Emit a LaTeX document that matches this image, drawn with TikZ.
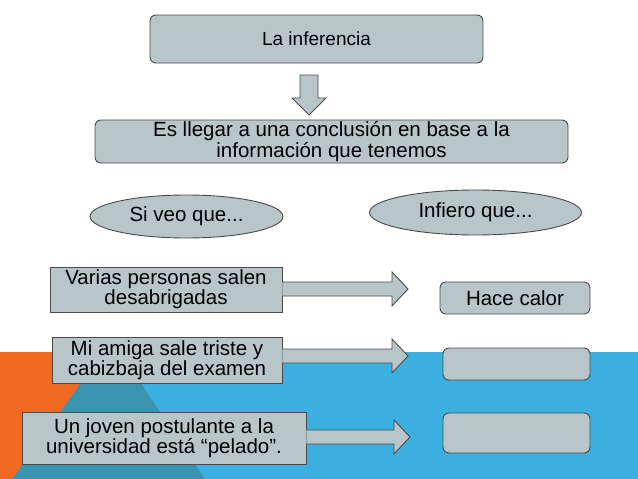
\documentclass[tikz,border=0pt]{standalone}
\usepackage{fontspec}
\setmainfont{Liberation Sans}
\usetikzlibrary{shapes.geometric,calc}
\definecolor{boxfill}{HTML}{B8C6C9}
\definecolor{boxline}{HTML}{4A4A4A}
\definecolor{orangebg}{HTML}{F26A22}
\definecolor{bluebg}{HTML}{3BB0E0}
\definecolor{tealbg}{HTML}{3A93B0}
\tikzset{
  base/.style={draw=boxline,fill=boxfill,line width=0.9pt,font=\fontsize{20.5}{19}\selectfont,align=center,inner sep=0pt},
  rbox/.style={base,rounded corners=6pt},
  sbox/.style={base},
  ell/.style={base,ellipse},
  barrow/.style={draw=boxline,fill=boxfill,line width=0.9pt,line join=miter}
}
\begin{document}
\begin{tikzpicture}[x=1pt,y=-1pt]
\useasboundingbox (0,0) rectangle (638,479);
% background
\fill[bluebg] (100,352) rectangle (638,479);
\fill[orangebg] (0,352) -- (125,352) -- (20,479) -- (0,479) -- cycle;
\fill[tealbg] (112,340) -- (205,479) -- (12,479) -- cycle;
% top
\node[rbox,minimum width=333pt,minimum height=48pt,font=\fontsize{19}{19}\selectfont] (inf) at (316.5,39) {La inferencia};
\node[rbox,minimum width=473pt,minimum height=43pt] (def) at (331.5,141.5) {Es llegar a una conclusión en base a la\\información que tenemos};
\draw[barrow] (300,75) -- (318,75) -- (318,98) -- (326,98) -- (309,115) -- (292,98) -- (300,98) -- cycle;
\node[ell,minimum width=193pt,minimum height=43pt] (si) at (186.5,216.5) {Si veo que...};
\node[ell,minimum width=212pt,minimum height=45pt] (in) at (475.5,212.5) {Infiero que...};
% rows
\node[sbox,minimum width=232pt,minimum height=45pt] (a1) at (166,289.5) {Varias personas salen\\desabrigadas};
\node[sbox,minimum width=230pt,minimum height=46pt] (a2) at (167,360) {Mi amiga sale triste y\\cabizbaja del examen};
\node[sbox,minimum width=284pt,minimum height=52pt] (a3) at (164,438) {Un joven postulante a la\\universidad está “pelado”.};
\node[rbox,minimum width=150pt,minimum height=32pt] (b1) at (515,298) {Hace calor};
\node[rbox,minimum width=147pt,minimum height=32pt] (b2) at (516.5,364) {};
\node[rbox,minimum width=147pt,minimum height=40pt] (b3) at (516.5,433) {};
% block arrows
\foreach \s/\y/\e in {a1/289/408, a2/356/408, a3/437/410}{
  \draw[barrow] (\s.east) coordinate (st)
    (st|-0,\y-7) -- (\e-16,\y-7) -- (\e-16,\y-17) -- (\e,\y) -- (\e-16,\y+17) -- (\e-16,\y+7) -- (st|-0,\y+7);
}
\end{tikzpicture}
\end{document}
